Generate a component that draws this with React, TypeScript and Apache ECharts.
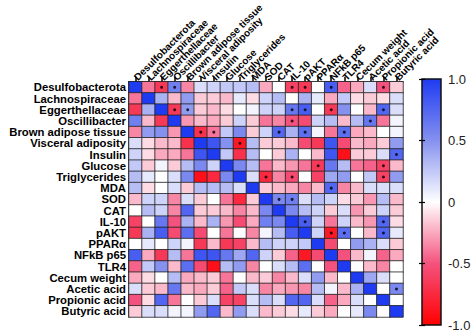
import React, { useEffect, useRef } from "react";
import * as echarts from "echarts";

const names = [
  "Desulfobacterota", "Lachnospiraceae", "Eggerthellaceae", "Oscillibacter",
  "Brown adipose tissue", "Visceral adiposity", "Insulin", "Glucose",
  "Triglycerides", "MDA", "SOD", "CAT", "IL-10", "pAKT", "PPARα",
  "NFkB p65", "TLR4", "Cecum weight", "Acetic acid", "Propionic acid", "Butyric acid",
];

const r0 = [1, -0.4, -0.65, 0.6, -0.35, 0.15, 0.2, 0.25, 0.25, 0.3, -0.25, 0, -0.6, -0.65, 0, 0.8, -0.45, -0.25, 0.15, -0.5, -0.15];
const r1 = [-0.4, 1, 0.35, -0.2, 0.45, -0.15, -0.15, -0.2, 0.1, -0.1, 0.2, 0.3, 0, 0.35, 0.1, -0.25, 0.25, -0.1, -0.15, -0.1, 0.15];
const r2 = [-0.65, 0.35, 1, -0.65, 0.45, -0.15, -0.2, -0.1, 0, 0.05, 0.2, 0.2, 0.65, 0.8, 0, -0.65, 0.5, 0, -0.2, 0.75, 0.15];
const r3 = [0.6, -0.2, -0.65, 1, -0.3, -0.2, -0.25, -0.15, 0.2, -0.15, -0.4, -0.35, -0.5, -0.55, 0.2, 0.3, -0.2, 0.3, 0.65, -0.4, 0.05];
const r4 = [-0.35, 0.45, 0.5, -0.3, 1, -0.7, -0.4, 0.25, 0.55, -0.15, 0.2, 0.75, 0.35, 0.7, 0.05, -0.4, 0.7, -0.25, -0.2, 0, 0.05];
const r5 = [0.15, -0.1, -0.2, -0.2, -0.7, 1, 0.85, 0.5, -0.85, 0.3, -0.15, -0.15, -0.2, -0.55, -0.65, 0.85, -0.55, -0.2, -0.25, -0.15, 0.45];
const r6 = [0.2, -0.1, -0.25, -0.25, -0.4, 0.85, 1, 0.25, -0.7, 0.3, 0, -0.15, 0.35, 0, -0.2, 0.85, -0.9, -0.15, -0.15, 0.15, 0.75];
const r7 = [0.25, -0.15, 0.05, -0.15, 0.3, 0.55, 0.2, 1, 0.55, 0.3, -0.4, -0.2, -0.3, -0.4, -0.65, 0.65, 0.3, -0.4, -0.45, -0.6, -0.2];
const r8 = [0.3, 0.1, 0, 0.15, 0.55, -0.9, -0.75, 0.55, 1, 0.15, -0.75, -0.35, -0.55, 0, -0.6, 0.4, 0.45, 0, 0.25, -0.6, 0.45];
const r9 = [0.3, -0.1, 0, 0.15, -0.15, 0.3, 0.3, 0.3, 0.15, 1, -0.15, -0.2, -0.25, -0.35, -0.2, 0.75, -0.35, -0.2, 0.15, 0.15, 0.15];
const r10 = [-0.2, 0.2, 0.2, -0.35, 0.15, -0.15, 0, -0.4, -0.75, -0.15, 1, 0.55, 0.6, 0.15, 0.3, 0.2, -0.1, -0.15, -0.3, 0.3, -0.2];
const r11 = [0, 0.3, 0.2, -0.35, 0.75, -0.15, -0.15, -0.2, -0.35, -0.2, 0.55, 1, 0.55, 0.3, 0.2, -0.15, 0.15, -0.3, -0.15, 0.2, -0.15];
const r12 = [-0.6, 0, 0.65, -0.5, 0.35, -0.2, 0.35, -0.3, -0.55, -0.25, 0.6, 0.55, 1, 0.8, 0.2, -0.4, 0.2, -0.2, -0.3, 0.75, -0.1];
const r13 = [-0.65, 0.35, 0.8, -0.55, 0.7, -0.55, 0, -0.4, 0, -0.35, 0.05, 0.3, 0.8, 1, 0.2, -0.85, 0.7, 0, -0.2, 0.75, 0.1];
const r14 = [0, 0.1, 0, 0.2, 0.05, -0.65, -0.2, -0.65, -0.6, -0.2, 0.3, 0.2, 0.2, 0.25, 1, -0.55, 0, 0.45, 0.35, 0.15, -0.15];
const r15 = [0.8, -0.25, -0.65, 0.3, -0.4, 0.85, 0.85, 0.65, 0.4, 0.75, 0.2, -0.15, -0.45, -0.85, -0.55, 1, -0.5, -0.2, 0.05, -0.45, -0.25];
const r16 = [-0.45, 0.25, 0.5, -0.2, 0.7, -0.55, -0.9, 0.3, 0.45, -0.35, 0, 0.15, 0.3, 0.7, 0, -0.5, 1, 0, -0.2, -0.35, 0];
const r17 = [-0.25, -0.1, 0, 0.3, -0.25, -0.2, -0.15, -0.4, 0, -0.2, -0.15, -0.35, -0.2, 0.15, 0.45, -0.2, 0, 1, 0.4, 0.15, 0];
const r18 = [0.15, -0.15, -0.2, 0.65, -0.2, -0.25, -0.15, -0.45, 0.25, 0.15, -0.35, -0.25, -0.3, -0.35, 0.3, 0.05, -0.2, 0.35, 1, 0, 0.55];
const r19 = [-0.5, -0.1, 0.75, -0.4, 0, -0.15, 0.15, -0.6, -0.6, 0.15, 0.3, 0.15, 0.75, 0.75, 0.15, -0.45, -0.25, 0.15, 0, 1, 0];
const r20 = [-0.15, 0.15, 0.15, 0.05, 0.05, 0.45, 0.75, -0.2, 0.45, 0.15, -0.2, -0.15, -0.1, 0.1, -0.15, -0.25, 0, 0.1, 0.55, 0, 1];

const matrix = [r0, r1, r2, r3, r4, r5, r6, r7, r8, r9, r10, r11, r12, r13, r14, r15, r16, r17, r18, r19, r20];

// significant cells: [row, col]
const significant = [
  [0, 2], [0, 3], [0, 12], [0, 13], [0, 15], [0, 19],
  [2, 3], [2, 4], [2, 12], [2, 13], [2, 15], [2, 19],
  [3, 12], [3, 18],
  [4, 5], [4, 6], [4, 11], [4, 13], [4, 16],
  [5, 8], [6, 20], [7, 14], [7, 19],
  [8, 10], [8, 12], [8, 19], [9, 15],
  [10, 11], [10, 12], [12, 13], [12, 19],
  [13, 15], [13, 16], [13, 19], [18, 20],
];

const scaleTicks = [-1, -0.5, 0, 0.5, 1];
const palette = ["#ff0000", "#f4527e", "#ffffff", "#8591ef", "#1f3bf2"];

const FONT = "'Liberation Sans', Arial, Helvetica, sans-serif";

export default function App() {
  const ref = useRef<HTMLDivElement>(null);
  useEffect(() => {
    if (!ref.current) return;
    const chart = echarts.init(ref.current, null, { renderer: "svg" });
    const heat: number[][] = [];
    matrix.forEach((row, ri) => row.forEach((v, ci) => heat.push([ci, ri, v])));
    const dots = significant.map(([r, c]) => [c, r]);
    const gradient = new echarts.graphic.LinearGradient(0, 0, 0, 1, [
      { offset: 0, color: palette[4] },
      { offset: 0.25, color: palette[3] },
      { offset: 0.5, color: palette[2] },
      { offset: 0.75, color: palette[1] },
      { offset: 1, color: palette[0] },
    ]);
    chart.setOption({
      animation: false,
      textStyle: { fontFamily: FONT },
      grid: [
        { left: 129, top: 79, width: 274, height: 238 },
        {
          left: 422, top: 79, width: 19, height: 246, show: true,
          backgroundColor: gradient, borderColor: "#111", borderWidth: 1.5,
        },
      ],
      xAxis: [
        {
          type: "category", gridIndex: 0, position: "top", data: names,
          axisLine: { lineStyle: { color: "#000", width: 1.5 } },
          axisTick: { show: true, alignWithLabel: true, length: 5, lineStyle: { color: "#000", width: 1.5 } },
          axisLabel: { rotate: -45, interval: 0, fontSize: 10, fontWeight: "bold", color: "#000", margin: 3, fontFamily: FONT, lineHeight: 10 },
          splitLine: { show: false },
        },
        { type: "value", gridIndex: 1, show: false, min: 0, max: 1 },
      ],
      yAxis: [
        {
          type: "category", gridIndex: 0, inverse: true, data: names,
          axisLine: { lineStyle: { color: "#000", width: 1.5 } },
          axisTick: { show: false },
          axisLabel: { fontSize: 11.3, fontWeight: "bold", color: "#000", margin: 3, interval: 0, fontFamily: FONT, lineHeight: 11 },
          splitLine: { show: false },
        },
        {
          type: "value", gridIndex: 1, position: "right", min: -1, max: 1, interval: 0.5,
          axisLine: { show: false },
          axisTick: { show: true, inside: true, length: 3, lineStyle: { color: "#000", width: 1.2 } },
          axisLabel: {
            fontSize: 13, color: "#222", margin: 7, fontFamily: FONT,
            formatter: (v: number) => (v === 0 ? "0" : v.toFixed(1)),
          },
          splitLine: { show: false },
        },
        {
          type: "value", gridIndex: 1, position: "left", min: -1, max: 1, interval: 0.5,
          axisLine: { show: false },
          axisTick: { show: true, inside: true, length: 3, lineStyle: { color: "#000", width: 1.2 } },
          axisLabel: { show: false },
          splitLine: { show: false },
        },
      ],
      visualMap: {
        show: false, min: scaleTicks[0], max: scaleTicks[scaleTicks.length - 1],
        seriesIndex: 0, dimension: 2, inRange: { color: palette },
      },
      series: [
        {
          type: "heatmap", xAxisIndex: 0, yAxisIndex: 0, data: heat,
          itemStyle: { borderColor: "#222", borderWidth: 0.8 },
        },
        {
          type: "scatter", xAxisIndex: 0, yAxisIndex: 0, data: dots,
          symbolSize: 3, itemStyle: { color: "#000" }, z: 5,
        },
      ],
    });
    return () => chart.dispose();
  }, []);
  return (
    <div
      ref={ref}
      style={{ position: "fixed", left: 0, top: 0, width: 474, height: 334, background: "#fff" }}
    />
  );
}
